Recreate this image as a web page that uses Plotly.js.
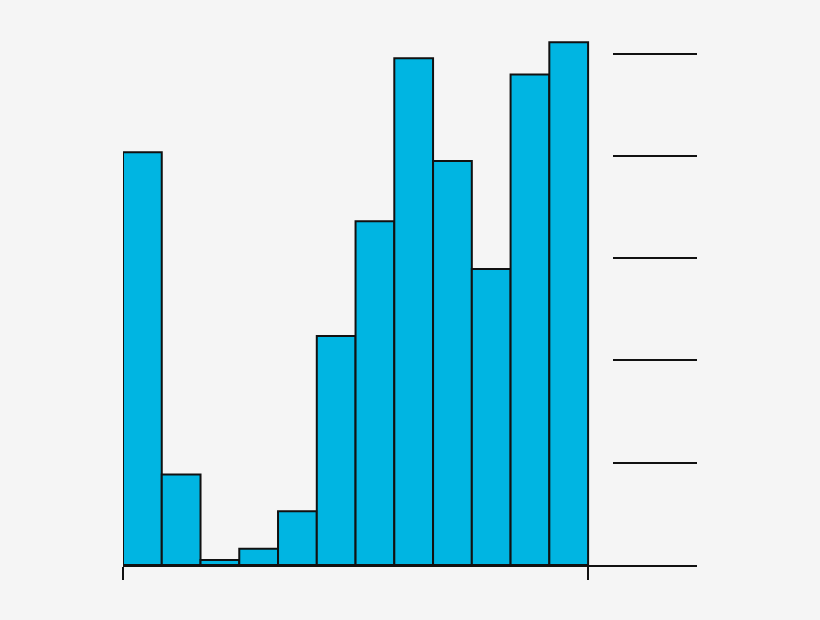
<!DOCTYPE html>
<html>
<head>
<meta charset="utf-8">
<script src="https://cdn.plot.ly/plotly-3.0.1.min.js"></script>
<style>
  html, body { margin: 0; padding: 0; background: #f5f5f5; }
  #chart { width: 820px; height: 620px; }
</style>
</head>
<body>
<div id="chart"></div>
<script>
// Data (bin index, bar height on a 0-100 scale)
const bins = [0, 1, 2, 3, 4, 5, 6, 7, 8, 9, 10, 11];
const heights = [80.7, 17.7, 1.0, 3.2, 10.5, 44.8, 67.2, 99.1, 79.0, 57.9, 95.9, 102.2];
const yTicks = [0, 20, 40, 60, 80, 100];
const xEdgeTicks = [-0.5, 11.5];

const trace = {
  type: 'bar',
  x: bins,
  y: heights,
  width: 1,
  marker: {
    color: '#00b5e2',
    line: { color: '#111111', width: 2 }
  },
  hoverinfo: 'none'
};

const layout = {
  width: 820,
  height: 620,
  paper_bgcolor: '#f5f5f5',
  plot_bgcolor: '#f5f5f5',
  margin: { l: 123, r: 123, t: 28, b: 55, pad: 0 },
  showlegend: false,
  bargap: 0,
  xaxis: {
    type: 'linear',
    range: [-0.5, 14.31],
    showgrid: false,
    zeroline: false,
    showline: true,
    linecolor: '#111111',
    linewidth: 2,
    tickmode: 'array',
    tickvals: xEdgeTicks,
    ticks: 'outside',
    ticklen: 13,
    tickwidth: 2,
    tickcolor: '#111111',
    showticklabels: false,
    fixedrange: true
  },
  yaxis: {
    range: [0, 105],
    side: 'right',
    anchor: 'free',
    position: 1,
    showgrid: false,
    zeroline: false,
    showline: false,
    tickmode: 'array',
    tickvals: yTicks,
    ticks: 'inside',
    ticklen: 84,
    tickwidth: 2,
    tickcolor: '#111111',
    showticklabels: false,
    fixedrange: true
  }
};

Plotly.newPlot('chart', [trace], layout, { displayModeBar: false, staticPlot: true });
</script>
</body>
</html>
